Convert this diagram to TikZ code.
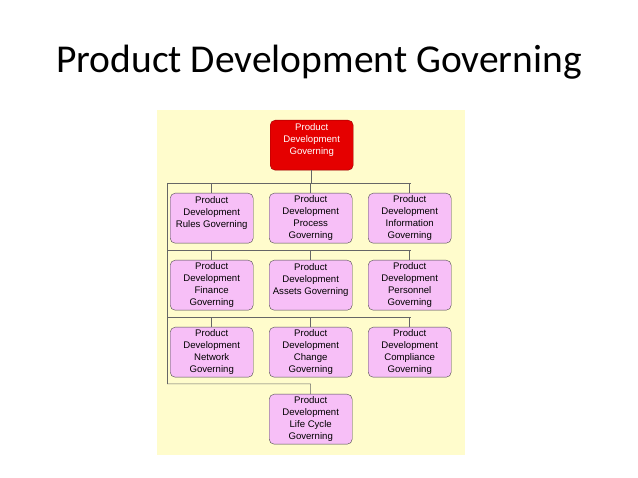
\documentclass[tikz,border=0pt]{standalone}
\usepackage{fontspec}
\setmainfont{Liberation Sans}
\newfontfamily\titlefont{Carlito}
\begin{document}
\begin{tikzpicture}[x=1pt,y=-1pt,
  box/.style={draw=black!70,fill=violet!25!magenta!25,rounded corners=5pt,minimum width=83pt,minimum height=50pt,align=center,font=\fontsize{9.6}{12}\selectfont,inner sep=1pt,anchor=north west},
  rootbox/.style={box,fill=red!90!black,draw=red!60!black,text=white},
  ln/.style={draw=black!60,line width=0.5pt}]
\useasboundingbox (0,0) rectangle (638,478);
\fill[white] (0,0) rectangle (638,478);
\fill[yellow!20] (157,110) rectangle (465,455);
\node[font=\titlefont\fontsize{39.5}{42}\selectfont] (title) at (319,62) {Product Development Governing};
\node[rootbox] (r) at (270,120) {Product\\Development\\Governing\\\mbox{}};
\node[box] (a1) at (170,193) {Product\\Development\\Rules Governing\\\mbox{}};
\node[box] (a2) at (269,193) {Product\\Development\\Process\\Governing};
\node[box] (a3) at (368,193) {Product\\Development\\Information\\Governing};
\node[box] (b1) at (170,260) {Product\\Development\\Finance\\Governing};
\node[box] (b2) at (269,260) {Product\\Development\\Assets Governing\\\mbox{}};
\node[box] (b3) at (368,260) {Product\\Development\\Personnel\\Governing};
\node[box] (c1) at (170,327) {Product\\Development\\Network\\Governing};
\node[box] (c2) at (269,327) {Product\\Development\\Change\\Governing};
\node[box] (c3) at (368,327) {Product\\Development\\Compliance\\Governing};
\node[box] (d2) at (269,394) {Product\\Development\\Life Cycle\\Governing};
\begin{scope}[ln]
\draw (r.south) -- ++(0,13) coordinate (t1);
\draw (167,183) -- (410.5,183);
\draw (167,183) -- (167,384);
\foreach \y/\p in {250/b,317/c}{
  \draw (167,\y) -- (410.5,\y);
  \draw (\p1.north) -- (\p1.north |- 0,\y);
  \draw (\p2.north) -- (\p2.north |- 0,\y);
  \draw (\p3.north) -- (\p3.north |- 0,\y);
}
\draw (a1.north) -- (a1.north |- t1);
\draw (a2.north) -- (a2.north |- t1);
\draw (a3.north) -- (a3.north |- t1);
\draw (167,384) -- (310.5,384) -- (d2.north);
\end{scope}
\end{tikzpicture}
\end{document}
